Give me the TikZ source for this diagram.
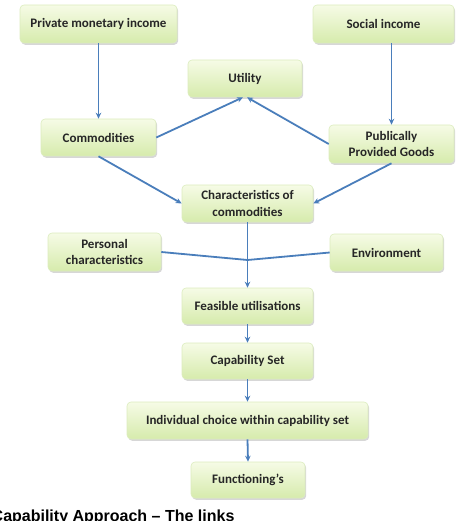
\documentclass[tikz,border=0pt]{standalone}
\usepackage{fontspec}
\setmainfont{Carlito}
\newfontfamily\capfont{Liberation Sans}
\usetikzlibrary{arrows.meta,shadows,calc}
\definecolor{boxtop}{RGB}{246,251,230}
\definecolor{boxbot}{RGB}{214,235,172}
\definecolor{boxline}{RGB}{220,236,190}
\definecolor{arrowblue}{RGB}{74,126,187}
\tikzset{
  box/.style={rectangle, rounded corners=4pt, top color=boxtop, bottom color=boxbot,
    draw=boxline, line width=0.6pt, align=center, inner sep=1pt,
    font=\fontsize{13}{16.5}\selectfont\bfseries, text=black!85,
    drop shadow={shadow xshift=1.2pt, shadow yshift=-1.8pt, opacity=0.35, fill=black!45}},
  link/.style={draw=arrowblue, line width=1.8pt},
  arr/.style={link, -{Stealth[length=6pt,width=5.5pt]}}
}
\begin{document}
\begin{tikzpicture}[x=1pt,y=-1pt]
\useasboundingbox (0,0) rectangle (474,521);
\node[box, minimum width=157pt, minimum height=38pt] (pmi) at (98.5,24) {Private monetary income};
\node[box, minimum width=141pt, minimum height=38pt] (soc) at (383.5,24) {Social income};
\node[box, minimum width=114pt, minimum height=37pt] (uti) at (245,78.5) {Utility};
\node[box, minimum width=115pt, minimum height=37pt] (com) at (98.5,137.5) {Commodities};
\node[box, minimum width=125pt, minimum height=38pt] (pub) at (391.5,144) {Publically\\Provided Goods};
\node[box, minimum width=131pt, minimum height=37pt] (cha) at (247.5,203.5) {Characteristics of\\commodities};
\node[box, minimum width=113pt, minimum height=38pt] (per) at (104.5,252) {Personal\\characteristics};
\node[box, minimum width=113pt, minimum height=37pt] (env) at (386.5,252.5) {Environment};
\node[box, minimum width=131pt, minimum height=36pt] (fea) at (247.5,306) {Feasible utilisations};
\node[box, minimum width=131pt, minimum height=36pt] (cap) at (247.5,361) {Capability Set};
\node[box, minimum width=241pt, minimum height=37pt] (ind) at (247.5,420.5) {Individual choice within capability set};
\node[box, minimum width=114pt, minimum height=36pt] (fun) at (248,480) {Functioning's};
\coordinate (j) at (247.5,260);
\draw[arr] (pmi.south) -- (com.north);
\draw[arr] (soc.south -| pub.north) -- (pub.north);
\draw[arr] (com.east) -- ($(uti.south)+(-2,0)$);
\draw[arr] (pub.west) -- ($(uti.south)+(2,0)$);
\draw[arr] (com.south) -- (cha.west);
\draw[arr] (pub.south) -- (cha.east);
\draw[link] (per.east) -- (j);
\draw[link] (env.west) -- (j);
\draw[arr] (cha.south) -- (fea.north);
\draw[arr] (fea.south) -- (cap.north);
\draw[arr] (cap.south) -- (ind.north);
\draw[arr] (ind.south) -- (fun.north);
\node[anchor=base west, inner sep=0pt, font=\capfont\bfseries\fontsize{16}{18}\selectfont] (cap-title) at (-8.5,521) {Capability Approach – The links};
\end{tikzpicture}
\end{document}
